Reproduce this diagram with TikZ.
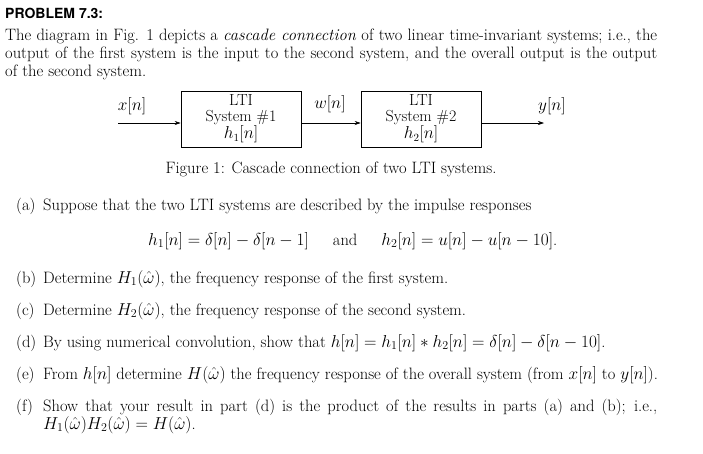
\documentclass[tikz,border=0pt]{standalone}
\usepackage{fontspec}
\newfontfamily\headfont{TeX Gyre Heros}
\usetikzlibrary{arrows.meta}
\tikzset{
  txt/.style={anchor=base west,inner sep=0pt,font=\fontsize{16.5}{18}\selectfont},
  sm/.style={inner sep=0pt,font=\fontsize{16.5}{16}\selectfont},
  blk/.style={draw,line width=0.6pt,minimum width=120pt,minimum height=56pt,inner sep=0pt,align=center,font=\fontsize{16}{15.5}\selectfont},
  sig/.style={line width=0.6pt,-{Stealth[length=6pt,width=4pt]}}
}
\begin{document}
\begin{tikzpicture}[x=1pt,y=-1pt]
\useasboundingbox (0,0) rectangle (703,453);
\node[anchor=base west,inner sep=0pt,font=\headfont\bfseries\fontsize{14}{16}\selectfont] (title) at (5,18) {PROBLEM 7.3:};
\node[txt] (l1) at (5,40) {\makebox[652pt][s]{The diagram in Fig. 1 depicts a \emph{cascade connection} of two linear time-invariant systems; i.e., the}};
\node[txt] (l2) at (5,58) {\makebox[652pt][s]{output of the first system is the input to the second system, and the overall output is the output}};
\node[txt] (l3) at (5,76) {of the second system.};
% diagram
\node[blk] (b1) at (241,119) {LTI\\System \#1\\$h_1[n]$};
\node[blk] (b2) at (421,119) {LTI\\System \#2\\$h_2[n]$};
\coordinate (in) at (118,123);
\coordinate (out) at (544,123);
\draw[sig] (in) -- (in -| b1.west);
\draw[sig] (b1.east |- in) -- (b2.west |- in);
\draw[sig] (b2.east |- in) -- (out);
\node[sm] (x) at (132,106) {$x[n]$};
\node[sm] (w) at (330,104) {$w[n]$};
\node[sm] (y) at (552,106) {$y[n]$};
\node[sm] (cap) at (331,169) {Figure 1: Cascade connection of two LTI systems.};
% items
\node[txt] (a) at (16,210) {(a)};
\node[txt] (at) at (43,210) {Suppose that the two LTI systems are described by the impulse responses};
\node[txt] (eq) at (148,245) {$h_1[n]=\delta[n]-\delta[n-1]$\hspace{24pt}and\hspace{24pt}$h_2[n]=u[n]-u[n-10]$.};
\node[txt] (b) at (16,283) {(b)};
\node[txt] (bt) at (43,283) {Determine $H_1(\hat\omega)$, the frequency response of the first system.};
\node[txt] (c) at (16,315) {(c)};
\node[txt] (ct) at (43,315) {Determine $H_2(\hat\omega)$, the frequency response of the second system.};
\node[txt] (d) at (16,347) {(d)};
\node[txt] (dt) at (43,347) {By using numerical convolution, show that $h[n]=h_1[n]*h_2[n]=\delta[n]-\delta[n-10]$.};
\node[txt] (e) at (16,379) {(e)};
\node[txt] (et) at (43,379) {From $h[n]$ determine $H(\hat\omega)$ the frequency response of the overall system (from $x[n]$ to $y[n]$).};
\node[txt] (f) at (16,411) {(f)};
\node[txt] (ft) at (43,411) {\makebox[614pt][s]{Show that your result in part (d) is the product of the results in parts (a) and (b); i.e.,}};
\node[txt] (ft2) at (43,429) {$H_1(\hat\omega)H_2(\hat\omega)=H(\hat\omega)$.};
\end{tikzpicture}
\end{document}
